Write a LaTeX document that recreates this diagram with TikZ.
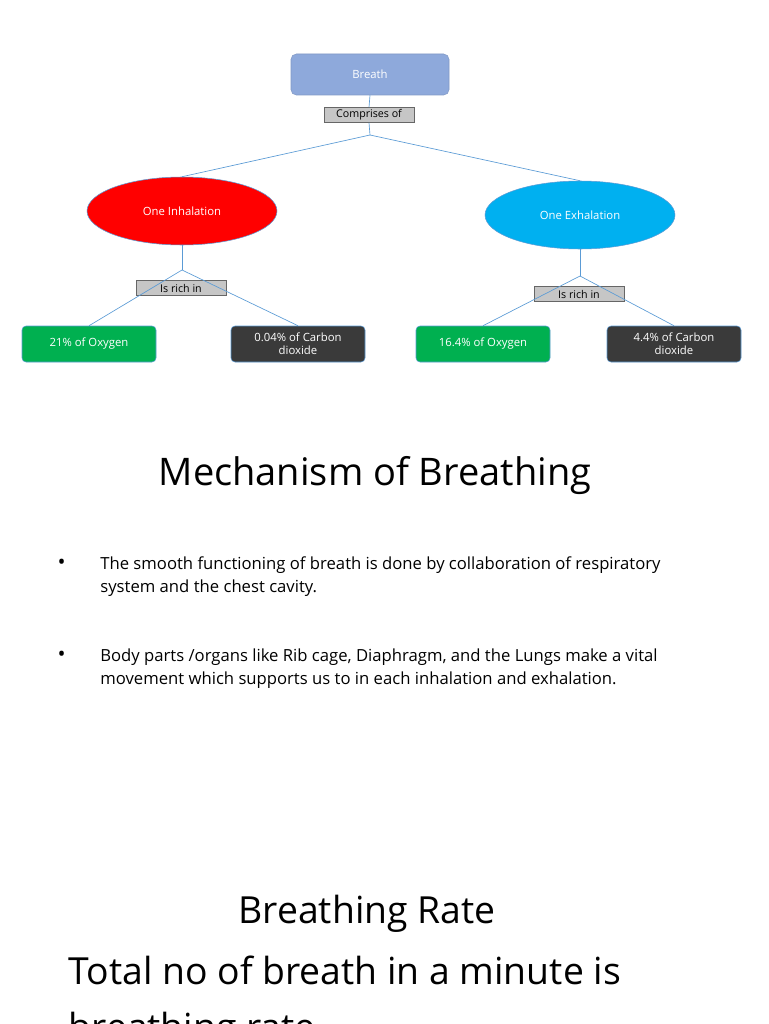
\documentclass[tikz,border=0pt]{standalone}
\usepackage{fontspec}
\setmainfont{Open Sans}
\usetikzlibrary{shapes.geometric}
\definecolor{lnk}{HTML}{5B9BD5}
\definecolor{brc}{HTML}{8EA9DB}
\definecolor{grn}{HTML}{00B050}
\definecolor{drk}{HTML}{3A3A3A}
\definecolor{sky}{HTML}{00B0F0}
\begin{document}
\begin{tikzpicture}[x=0.75pt,y=-0.75pt,
 conn/.style={draw=lnk,line width=0.5pt},
 lbl/.style={draw=gray!80!black,fill=gray!45,font=\fontsize{8}{9}\selectfont,inner sep=1pt,minimum width=90*0.75pt,minimum height=15*0.75pt},
 leaf/.style={rounded corners=3pt,draw=lnk,text=white,minimum width=134*0.75pt,minimum height=36*0.75pt,align=center,font=\fontsize{8.5}{10}\selectfont,inner sep=1pt},
 ell/.style={ellipse,draw=lnk,text=white,minimum width=190*0.75pt,minimum height=68*0.75pt,font=\fontsize{8.5}{10}\selectfont}]
\useasboundingbox (0,0) rectangle (768,1024);
\clip (0,0) rectangle (768,1024);
\node[rounded corners=4pt,fill=brc,draw=brc!90!black,text=white,minimum width=158*0.75pt,minimum height=41*0.75pt,font=\fontsize{8.5}{10}\selectfont] (breath) at (370,74.5) {Breath};
\node[lbl] (comp) at (369,115) {Comprises of};
\coordinate (j1) at (370,135);
\node[ell,fill=red] (inh) at (182,211) {One Inhalation};
\node[ell,fill=sky] (exh) at (580,215) {One Exhalation};
\draw[conn] (breath.south) -- (comp.north);
\draw[conn] (comp.south) -- (j1);
\draw[conn] (j1) -- (inh.north);
\draw[conn] (j1) -- (exh.north);
\coordinate (j2) at (182,270);
\coordinate (j3) at (580,276);
\node[lbl] (r1) at (181,288) {Is rich in};
\node[lbl] (r2) at (579,294) {Is rich in};
\node[leaf,fill=grn] (a) at (89,344) {21\% of Oxygen};
\node[leaf,fill=drk] (b) at (298,344) {0.04\% of Carbon\\dioxide};
\node[leaf,fill=grn] (c) at (483,344) {16.4\% of Oxygen};
\node[leaf,fill=drk] (d) at (674,344) {4.4\% of Carbon\\dioxide};
\draw[conn] (inh.south) -- (j2);
\draw[conn] (exh.south) -- (j3);
\draw[conn] (j2) -- (a.north);
\draw[conn] (j2) -- (b.north);
\draw[conn] (j3) -- (c.north);
\draw[conn] (j3) -- (d.north);
\node[font=\fontsize{28.5}{30}\selectfont] (t1) at (375,476) {Mechanism of Breathing};
\node[font=\fontsize{12.5}{17.2}\selectfont,anchor=north west,align=left] (p1) at (53,552) {\makebox[32pt][l]{\fontsize{16}{17}\selectfont•}The smooth functioning of breath is done by collaboration of respiratory\\\hspace*{32pt}system and the chest cavity.};
\node[font=\fontsize{12.5}{17.2}\selectfont,anchor=north west,align=left] (p2) at (53,644) {\makebox[32pt][l]{\fontsize{16}{17}\selectfont•}Body parts /organs like Rib cage, Diaphragm, and the Lungs make a vital\\\hspace*{32pt}movement which supports us to in each inhalation and exhalation.};
\node[font=\fontsize{28}{30}\selectfont] (t2) at (367,914) {Breathing Rate};
\node[font=\fontsize{28}{42}\selectfont,anchor=north west,align=left] (t3) at (64,951) {Total no of breath in a minute is\\breathing rate};
\end{tikzpicture}
\end{document}
